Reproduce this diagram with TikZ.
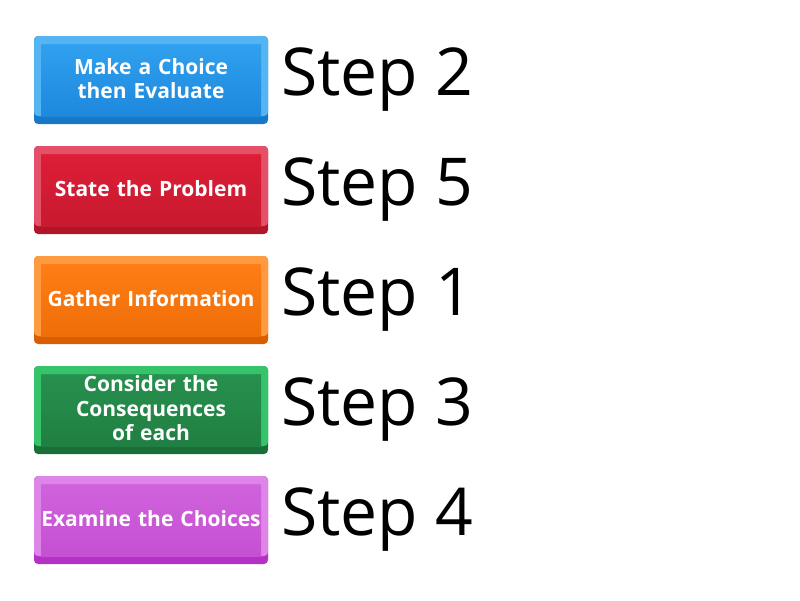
\documentclass[tikz,border=0pt]{standalone}
\usepackage{fontspec}
\setmainfont{Open Sans}
\newfontfamily\btnfont{Open Sans}[UprightFont=* Bold]
\definecolor{bLight}{HTML}{55B4F2}\definecolor{bTop}{HTML}{2FA0EE}\definecolor{bBot}{HTML}{1E88DD}\definecolor{bDark}{HTML}{1878C8}
\definecolor{rLight}{HTML}{E35068}\definecolor{rTop}{HTML}{DC1E36}\definecolor{rBot}{HTML}{C81A30}\definecolor{rDark}{HTML}{B01528}
\definecolor{oLight}{HTML}{FF9A40}\definecolor{oTop}{HTML}{FF7D14}\definecolor{oBot}{HTML}{F06E08}\definecolor{oDark}{HTML}{D85E00}
\definecolor{gLight}{HTML}{35C46A}\definecolor{gTop}{HTML}{27904E}\definecolor{gBot}{HTML}{207F42}\definecolor{gDark}{HTML}{1B6E38}
\definecolor{pLight}{HTML}{DE86E8}\definecolor{pTop}{HTML}{D062DC}\definecolor{pBot}{HTML}{C550D2}\definecolor{pDark}{HTML}{B530C6}
\tikzset{
  btntext/.style={text=white, font=\btnfont\fontsize{21}{24.5}\selectfont, align=center, text width=234pt, inner sep=0pt},
  steplabel/.style={font=\fontsize{66}{70}\selectfont, anchor=base west, inner sep=0pt, text=black},
}
% #1 y top, #2 prefix, #3 name, #4 text, #5 step label name, #6 step text
\newcommand\mybtn[6]{%
  \fill[#2Dark, rounded corners=4pt] (34,#1) rectangle (268,#1+88);
  \fill[#2Light, rounded corners=4pt] (34,#1) rectangle (268,#1+80);
  \fill[#2Top!85!#2Light] (41,#1+8) rectangle (261,#1+80);
  \shade[top color=#2Top, bottom color=#2Bot] (41,#1+9) rectangle (261,#1+80);
  \node[btntext] (#3) at (151,#1+42.5) {#4};
  \node[steplabel] (#5) at (281,#1+59) {#6};
}
\begin{document}
\begin{tikzpicture}[x=1pt,y=-1pt]
\useasboundingbox (0,0) rectangle (800,600);
\mybtn{36}{b}{b1}{Make a Choice\\then Evaluate}{s1}{Step 2}
\mybtn{146}{r}{b2}{State the Problem}{s2}{Step 5}
\mybtn{256}{o}{b3}{Gather Information}{s3}{Step 1}
\mybtn{366}{g}{b4}{Consider the\\Consequences\\of each}{s4}{Step 3}
\mybtn{476}{p}{b5}{Examine the Choices}{s5}{Step 4}
\end{tikzpicture}
\end{document}
